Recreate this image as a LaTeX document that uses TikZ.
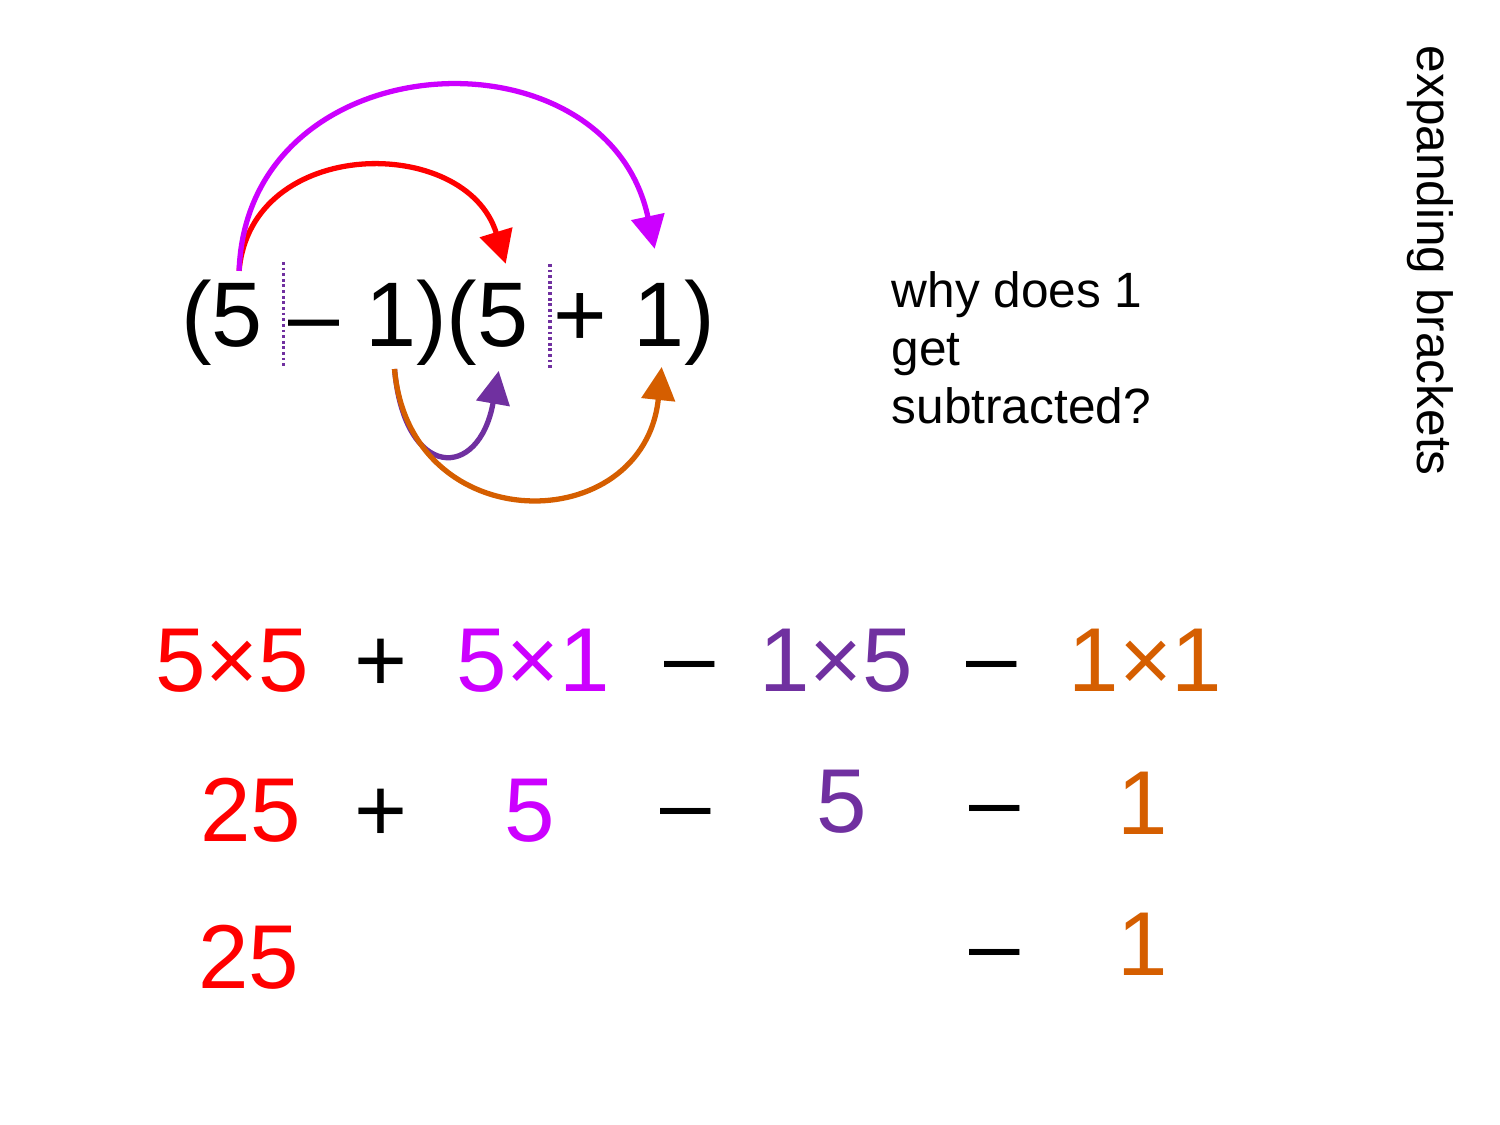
\documentclass[tikz,border=0pt]{standalone}
\usepackage{fontspec}
\setmainfont{Liberation Sans}
\usetikzlibrary{positioning, arrows.meta}
\definecolor{cRed}{RGB}{255,0,0}
\definecolor{cMag}{RGB}{204,0,255}
\definecolor{cPur}{RGB}{112,48,160}
\definecolor{cOra}{RGB}{213,94,0}
\newcommand\bigsize{\fontsize{26.1pt}{32pt}\selectfont}
\newcommand\rowsize{\fontsize{25.8pt}{32pt}\selectfont}
\newcommand\smallsize{\fontsize{14.1pt}{16.5pt}\selectfont}
\begin{document}
\begin{tikzpicture}[x = 0.01cm, y = 0.01cm,
        tok/.style = {inner sep = 0pt, outer sep = 0pt, font = \bigsize},
        term/.style = {inner sep = 0pt, outer sep = 0pt, font = \rowsize, anchor = base},
        sep/.style = {draw = cPur, line width = 1pt, dash pattern = on 0.8pt off 0.8pt},
        mul/.style = {line width = 1.5pt, -{Triangle[length = 9.4pt, width = 9.4pt]}}]
                \useasboundingbox (0, 0) rectangle (1500, -1125);
                % The two brackets
                \node [tok, anchor = base west] (lpA) at (181, -347) {(};
                \node [tok, base right = 0pt of lpA] (fiveA) {5};
                \node [tok, base right = 7.3pt of fiveA] (minus) {\textendash};
                \node [tok, base right = 7.3pt of minus] (oneA) {1};
                \node [tok, base right = 0pt of oneA] (rpA) {)};
                \node [tok, base right = 0pt of rpA] (lpB) {(};
                \node [tok, base right = 0pt of lpB] (fiveB) {5};
                \node [tok, base right = 7.3pt of fiveB] (plus) {+};
                \node [tok, base right = 7.3pt of plus] (oneB) {1};
                \node [tok, base right = 0pt of oneB] (rpB) {)};
                % Dotted separators
                \draw [sep]
                    ([shift = {(-5, 85)}]minus.base west) -- ([shift = {(-5, -21)}]minus.base west)
                    ([shift = {(-4, 83)}]plus.base west) -- ([shift = {(-4, -23)}]plus.base west);
                % Arrows above
                \draw [mul, cRed]
                    ([shift = {(2, 13)}]fiveA.north) to [out = 85, in = 107, looseness = 1.3] ([shift = {(3, 20)}]fiveB.north);
                \draw [mul, cMag]
                    ([shift = {(2, 13)}]fiveA.north) to [out = 88, in = 102, looseness = 1.42] ([shift = {(-4, 35)}]oneB.north);
                % Arrows below
                \draw [mul, cPur]
                    ([shift = {(4, -22)}]oneA.south) to [out = -85, in = -100, looseness = 2.75] ([shift = {(-4, -23)}]fiveB.south);
                \draw [mul, cOra]
                    ([shift = {(4, -22)}]oneA.south) to [out = -85, in = -96, looseness = 1.65] ([shift = {(3, -20)}]oneB.south);
                % Question
                \node [anchor = north west, align = left, inner sep = 0pt, font = \smallsize] (why) at (891, -271)
                    {why does 1\\get\\subtracted?};
                \node [rotate = -90, anchor = base west, inner sep = 0pt, font = \smallsize] (title) at (1417, -45)
                    {expanding brackets};
                % First row
                \node [term, cRed] (prodA) at (232, -692) {5×5};
                \node [term] (plusA) at (380.5, -692) {+};
                \node [term, cMag] (prodB) at (533, -692) {5×1};
                \node [term] (minusA) at (689.5, -688) {\textendash};
                \node [term, cPur] (prodC) at (836, -692) {1×5};
                \node [term] (minusB) at (991.5, -688) {\textendash};
                \node [term, cOra] (prodD) at (1145.5, -692) {1×1};
                % Second row
                \node [term, cRed] (sumA) at (250.5, -841) {25};
                \node [term] (plusB) at (380.5, -841) {+};
                \node [term, cMag] (valB) at (530, -841) {5};
                \node [term] (minusC) at (685.5, -834) {\textendash};
                \node [term, cPur] (valC) at (842, -832) {5};
                \node [term] (minusD) at (995, -831) {\textendash};
                \node [term, cOra] (valD) at (1143, -834) {1};
                % Third row
                \node [term, cRed] (resA) at (249, -988) {25};
                \node [term] (minusE) at (995, -975) {\textendash};
                \node [term, cOra] (resD) at (1143, -975) {1};
\end{tikzpicture}
\end{document}
